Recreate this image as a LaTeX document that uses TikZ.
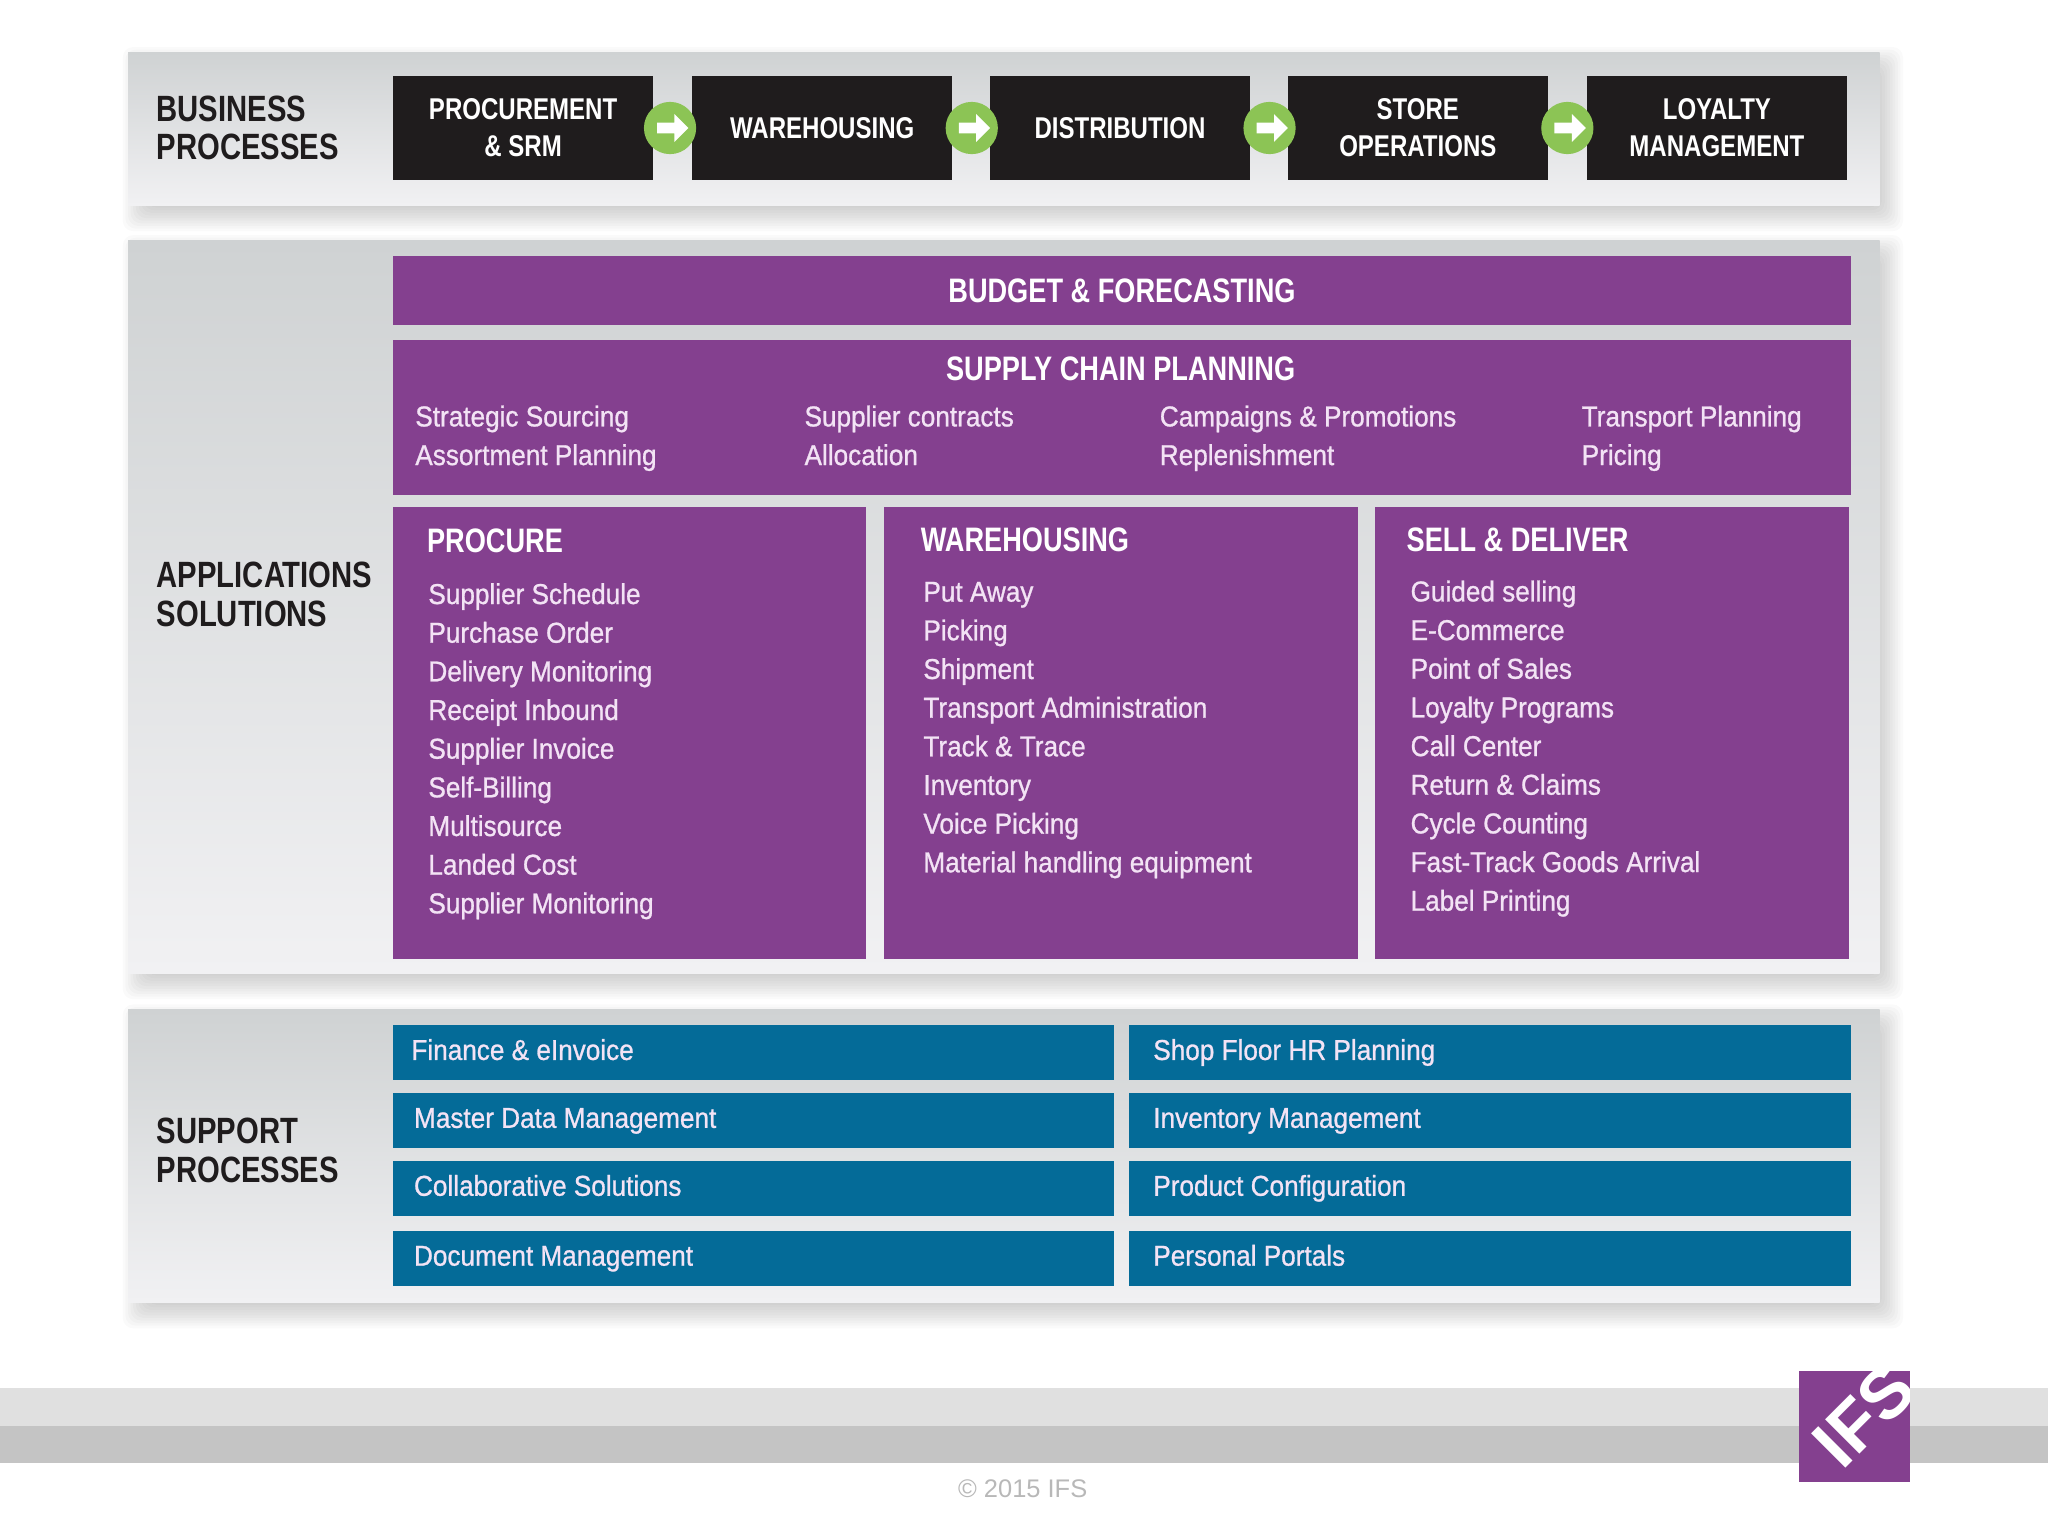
\documentclass[tikz,border=0pt]{standalone}
\usepackage{fontspec}
\setmainfont{Liberation Sans}[FakeStretch=0.8]
\newfontfamily\plainfont{Liberation Sans}
\newfontfamily\listfont{Liberation Sans}[FakeStretch=0.91,FakeBold=0.9]
\usetikzlibrary{shapes.arrows}
\definecolor{ifspurple}{HTML}{84408F}
\definecolor{ifsteal}{HTML}{046B98}
\definecolor{ifsgreen}{HTML}{8CC455}
\definecolor{ifsblack}{HTML}{1F1C1D}
\definecolor{panelTop}{HTML}{CFD2D3}
\definecolor{panelLow}{HTML}{F1F1F3}
\definecolor{listtext}{HTML}{F3E3F5}
\begin{document}
\begin{tikzpicture}[
        x=1pt, y=-1pt,
        every node/.style={inner sep=0pt, outer sep=0pt},
        panel/.style={rectangle, top color=panelTop, bottom color=panelLow, minimum width=1341pt},
        softedge/.style={fill=black, opacity=0.02, rounded corners=8pt},
        blackbox/.style={rectangle, fill=ifsblack, text=white, minimum width=199pt, minimum height=79pt,
            align=center, font=\fontsize{23}{28.5}\selectfont\bfseries},
        purplebox/.style={rectangle, fill=ifspurple, text=white, font=\fontsize{26}{30}\selectfont\bfseries},
        tealbox/.style={rectangle, fill=ifsteal, minimum width=552pt, minimum height=42pt},
        heading/.style={anchor=west, align=left, text=ifsblack, font=\fontsize{28}{29.6}\selectfont\bfseries},
        coltitle/.style={anchor=west, text=white, font=\fontsize{26}{30}\selectfont\bfseries},
        listing/.style={anchor=north west, align=left, text=listtext, font=\listfont\fontsize{22}{29.6}\selectfont},
        tealtext/.style={anchor=west, text=listtext, text height=16pt, text depth=5pt, font=\listfont\fontsize{22}{28}\selectfont},
        greendot/.style={circle, fill=ifsgreen, minimum size=40pt},
        whitearrow/.style={single arrow, fill=white, inner sep=4pt, minimum height=24pt,
            single arrow head extend=6.5pt},
    ]
    \useasboundingbox (0,0) rectangle (1568,1176);

    % grey panels with their soft edges
    \foreach \ptop/\pbot in {40/157, 184/745, 773/997} {
        \foreach \grow in {-6,-4,...,14} {
            \fill[softedge] (108-\grow,\ptop+10-\grow) rectangle (1443+\grow,\pbot+6+\grow);
        }
    }
    \node[panel, minimum height=117pt] (bizpanel) at (768.5,98.5) {};
    \node[panel, minimum height=561pt] (apppanel) at (768.5,464.5) {};
    \node[panel, minimum height=224pt] (suppanel) at (768.5,885) {};

    \node[heading] (bizhead) at (120,98) {BUSINESS\\PROCESSES};
    \node[heading] (apphead) at (120,455) {APPLICATIONS\\SOLUTIONS};
    \node[heading] (suphead) at (120,881) {SUPPORT\\PROCESSES};

    % business processes
    \node[blackbox] (procurement) at (400.5,98) {PROCUREMENT\\\& SRM};
    \node[blackbox] (warehouse) at (629.5,98) {WAREHOUSING};
    \node[blackbox] (distribution) at (857.5,98) {DISTRIBUTION};
    \node[blackbox] (store) at (1085.5,98) {STORE\\OPERATIONS};
    \node[blackbox] (loyalty) at (1314.5,98) {LOYALTY\\MANAGEMENT};

    \foreach \name/\xpos in {a/513, b/744, c/972, d/1200} {
        \node[greendot] (dot\name) at (\xpos,98) {};
        \node[whitearrow] (arrow\name) at (dot\name) {};
    }

    % applications
    \node[purplebox, minimum width=1116pt, minimum height=53pt] (budget) at (859,222.5) {BUDGET \& FORECASTING};
    \node[purplebox, minimum width=1116pt, minimum height=119pt] (planning) at (859,319.5) {};
    \node[purplebox, minimum width=362pt, minimum height=346pt] (procure) at (482,561) {};
    \node[purplebox, minimum width=363pt, minimum height=346pt] (wareapp) at (858.5,561) {};
    \node[purplebox, minimum width=363pt, minimum height=346pt] (sell) at (1234.5,561) {};

    \node[text=white, font=\fontsize{26}{30}\selectfont\bfseries] (plantitle) at (858,282) {SUPPLY CHAIN PLANNING};
    \node[listing] (plana) at (318,310.5) {Strategic Sourcing\\Assortment Planning};
    \node[listing] (planb) at (616,310.5) {Supplier contracts\\Allocation};
    \node[listing] (planc) at (888,310.5) {Campaigns \& Promotions\\Replenishment};
    \node[listing] (pland) at (1211,310.5) {Transport Planning\\Pricing};

    \node[coltitle] (proctitle) at (327,414) {PROCURE};
    \node[coltitle] (waretitle) at (705,413) {WAREHOUSING};
    \node[coltitle] (selltitle) at (1077,413) {SELL \& DELIVER};

    \node[listing] (proclist) at (328,446.5) {Supplier Schedule\\Purchase Order\\Delivery Monitoring\\Receipt Inbound\\Supplier Invoice\\Self-Billing\\Multisource\\Landed Cost\\Supplier Monitoring};
    \node[listing] (warelist) at (707,445.5) {Put Away\\Picking\\Shipment\\Transport Administration\\Track \& Trace\\Inventory\\Voice Picking\\Material handling equipment};
    \node[listing] (selllist) at (1080,444.5) {Guided selling\\E-Commerce\\Point of Sales\\Loyalty Programs\\Call Center\\Return \& Claims\\Cycle Counting\\Fast-Track Goods Arrival\\Label Printing};

    % support
    \foreach \name/\ypos/\xtext/\txt in {fin/806/315/{Finance \& eInvoice}, mdm/858/317/{Master Data Management},
        col/910/317/{Collaborative Solutions}, doc/963.5/317/{Document Management}} {
        \node[tealbox] (\name) at (577,\ypos) {};
        \node[tealtext] (\name txt) at (\xtext,\ypos) {\txt};
    }
    \foreach \name/\ypos/\txt in {hr/806/{Shop Floor HR Planning}, inv/858/{Inventory Management},
        cfg/910/{Product Configuration}, por/963.5/{Personal Portals}} {
        \node[tealbox, minimum width=553pt] (\name) at (1140.5,\ypos) {};
        \node[tealtext] (\name txt) at (883,\ypos) {\txt};
    }

    % footer
    \fill[fill=black!12] (0,1063) rectangle (1568,1092);
    \fill[fill=black!23] (0,1092) rectangle (1568,1120);
    \node[text=black!28, font=\plainfont\fontsize{19.5}{22}\selectfont] (copyright) at (783,1140) {© 2015 IFS};
    \node[rectangle, fill=ifspurple, minimum size=85pt] (logo) at (1419.5,1092) {};
    \begin{scope}
        \clip (logo.south west) rectangle (logo.north east);
        \node[rotate=45, text=white, font=\plainfont\fontsize{54}{60}\selectfont\bfseries] (ifs) at (1427,1084) {IFS};
    \end{scope}
\end{tikzpicture}
\end{document}
